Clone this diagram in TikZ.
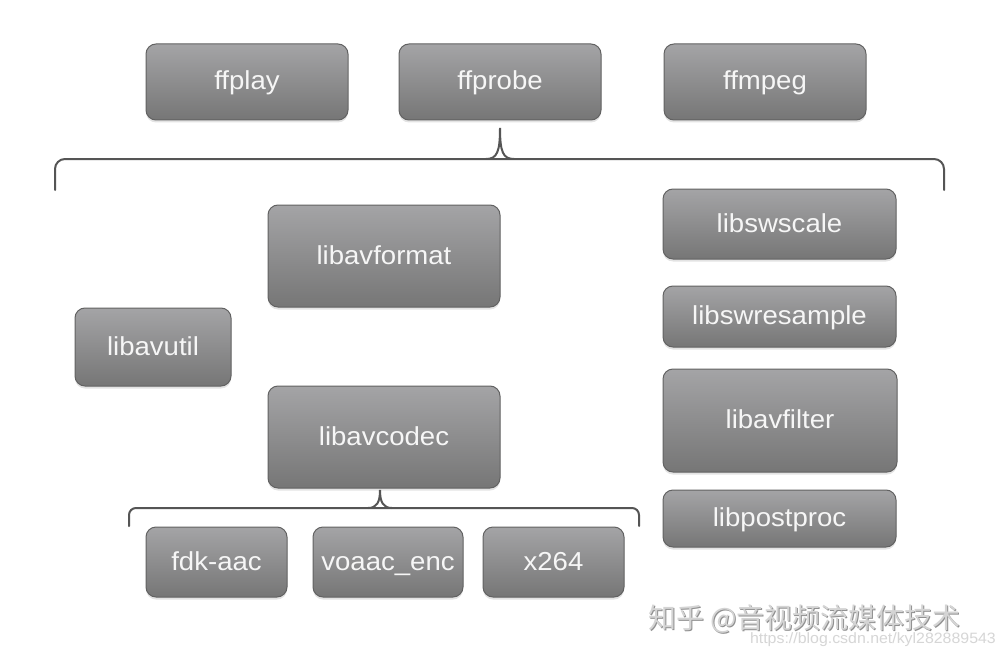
\documentclass[tikz,border=0pt]{standalone}
\usepackage{fontspec}
\setmainfont{Liberation Sans}[FakeStretch=1.06]
\newfontfamily\cjk{Noto Sans CJK SC}
\usetikzlibrary{shadows}
\definecolor{boxtop}{HTML}{A4A4A6}
\definecolor{boxbot}{HTML}{767676}
\definecolor{boxedge}{HTML}{626262}
\definecolor{boxtext}{HTML}{F6F6F6}
\definecolor{braceline}{HTML}{555555}
\definecolor{wmfill}{HTML}{D4D4D4}
\definecolor{wmshade}{HTML}{909090}
\definecolor{urlcol}{HTML}{D6D6D6}
\begin{document}
\begin{tikzpicture}[x=1pt,y=-1pt,
  box/.style={draw=boxedge, line width=1pt, rounded corners=10pt,
    top color=boxtop, bottom color=boxbot, text=boxtext,
    font=\fontsize{26}{30}\selectfont, inner sep=0pt,
    text height=20pt, text depth=4pt,
    drop shadow={shadow xshift=0pt, shadow yshift=-2.5pt, opacity=0.22}},
  brace/.style={draw=braceline, line width=2pt, line cap=round},
  wm/.style={font=\cjk\fontsize{28}{32}\selectfont, anchor=west, inner sep=0pt}]
\fill[white] (0,0) rectangle (1006,658);
\useasboundingbox (0,0) rectangle (1006,658);

% top row
\node[box, minimum width=202pt, minimum height=76pt] (ffplay)  at (247,82) {ffplay};
\node[box, minimum width=202pt, minimum height=76pt] (ffprobe) at (500,82) {ffprobe};
\node[box, minimum width=202pt, minimum height=76pt] (ffmpeg)  at (765,82) {ffmpeg};

% top brace
\coordinate (tbL) at (55,190);
\coordinate (tbR) at (944,190);
\coordinate (tbT) at (500,128);
\draw[brace, rounded corners=10pt] (tbL) -- (55,159) -- (944,159) -- (tbR);
\draw[brace] (486,159) .. controls (497,159) and (500,152) .. (tbT)
             .. controls (500,152) and (503,159) .. (514,159);

% middle
\node[box, minimum width=232pt, minimum height=102pt] (avformat) at (384,256) {libavformat};
\node[box, minimum width=156pt, minimum height=78pt]  (avutil)   at (153,347) {libavutil};
\node[box, minimum width=232pt, minimum height=102pt] (avcodec)  at (384,437) {libavcodec};

% right column
\node[box, minimum width=233pt, minimum height=70pt]  (swscale)    at (779.5,224)   {libswscale};
\node[box, minimum width=233pt, minimum height=61pt]  (swresample) at (779.5,316.5) {libswresample};
\node[box, minimum width=234pt, minimum height=103pt] (avfilter)   at (780,420.5)   {libavfilter};
\node[box, minimum width=233pt, minimum height=57pt]  (postproc)   at (779.5,518.5) {libpostproc};

% lower brace
\coordinate (lbL) at (129,526);
\coordinate (lbR) at (639,526);
\coordinate (lbT) at (380,490);
\draw[brace, rounded corners=7pt] (lbL) -- (129,508) -- (639,508) -- (lbR);
\draw[brace] (368,508) .. controls (377,508) and (380,502) .. (lbT)
             .. controls (380,502) and (383,508) .. (392,508);

% bottom row
\node[box, minimum width=141pt, minimum height=70pt] (fdk)   at (216.5,562) {fdk-aac};
\node[box, minimum width=150pt, minimum height=70pt] (voaac) at (388,562)   {voaac\_enc};
\node[box, minimum width=141pt, minimum height=70pt] (x264)  at (553.5,562) {x264};

% watermark
\node[wm, text=wmshade] (wmshadow) at (649,620) {知乎 @音视频流媒体技术};
\node[wm, text=wmfill]  (wmtext)   at (648,619) {知乎 @音视频流媒体技术};
\node[anchor=east, inner sep=0pt, text=urlcol, font=\fontsize{15}{16}\selectfont] (url) at (996,640) {https://blog.csdn.net/kyl282889543};
\end{tikzpicture}
\end{document}
